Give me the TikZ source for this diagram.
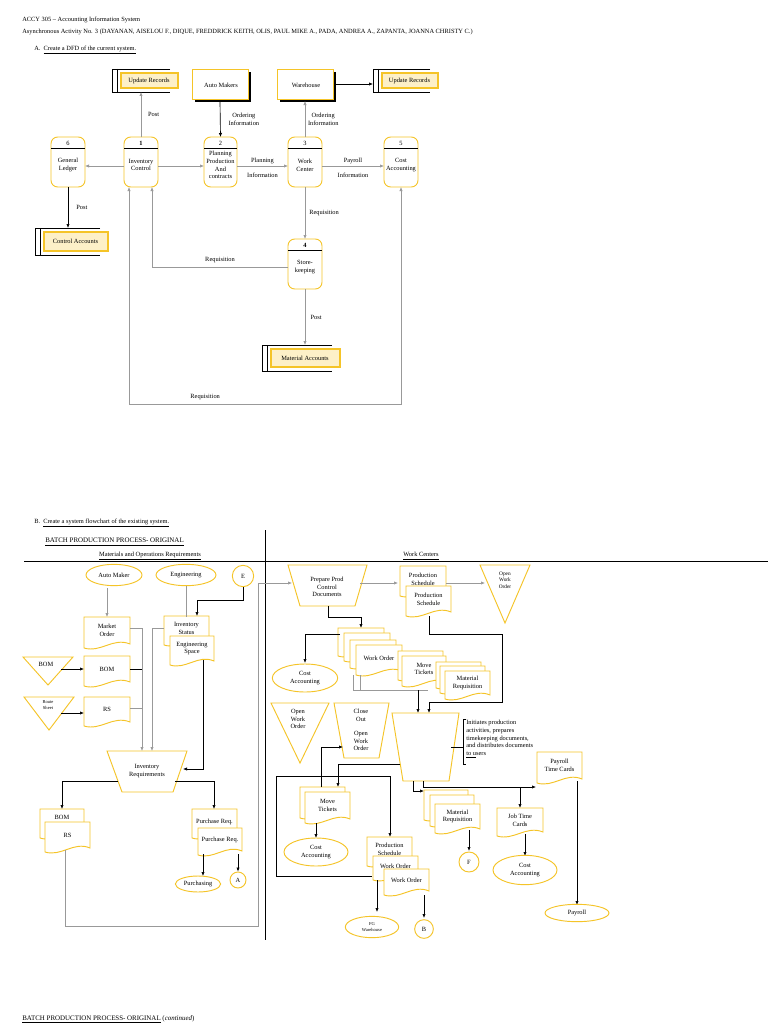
\documentclass[tikz,border=0pt]{standalone}
\usepackage{fontspec}
\setmainfont{Liberation Serif}
\usepackage{xcolor}
\definecolor{boxline}{RGB}{245,196,40}
\definecolor{storefill}{RGB}{253,240,200}
\usetikzlibrary{arrows.meta, calc, shapes.geometric}
\tikzset{
  txt/.style={font=\fontsize{4.8}{5.8}\selectfont, align=center, inner sep=0pt},
  small/.style={font=\fontsize{3.4}{4.2}\selectfont, align=center, inner sep=0pt},
  flow/.style={-{Latex[length=3pt,width=2.5pt]}, line width=0.5pt},
  gflow/.style={flow, draw=gray!80},
  plain/.style={line width=0.5pt},
  yel/.style={draw=boxline, line width=0.7pt, fill=white},
}
% document symbol: name, x1, y1, x2, y2, text
\newcommand\docsym[6]{
  \draw[yel] (#2,#3) -- (#4,#3) -- (#4,{#5-4})
    .. controls ({(#2+#4)/2+6},{#5-11}) and ({(#2+#4)/2-6},{#5+5}) .. (#2,#5) -- cycle;
  \node[txt] (#1) at ({(#2+#4)/2},{(#3+#5)/2-2}) {#6};
}
% DFD process: name, x1, y1, x2, y2, number, text
\newcommand\dfdproc[7]{
  \draw[yel, rounded corners=5pt] (#2,#3) rectangle (#4,#5);
  \draw[line width=0.6pt] (#2,{#3+11}) -- (#4,{#3+11});
  \node[txt] at ({(#2+#4)/2},{#3+6}) {#6};
  \node[txt] (#1) at ({(#2+#4)/2},{(#3+#5)/2+3}) {#7};
  \coordinate (#1-n) at ({(#2+#4)/2},#3);
  \coordinate (#1-s) at ({(#2+#4)/2},#5);
}
% data store: name, x1, y1, x2, y2, text
\newcommand\dstore[6]{
  \draw[plain] (#4,#3) -- (#2,#3) -- (#2,#5) -- (#4,#5);
  \draw[plain] ({#2+5},#3) -- ({#2+5},#5);
  \draw[draw=boxline, line width=0.8pt, fill=storefill] ({#2+9},{#3+4}) rectangle ({#4+8},{#5-4});
  \node[txt] (#1) at ({(#2+#4)/2+8},{(#3+#5)/2}) {#6};
}
% external entity: name, x1, y1, x2, y2, text
\newcommand\entity[6]{
  \draw[line width=1pt] ({#2+3},#5) -- (#4,#5) -- (#4,{#3+3});
  \draw[yel] (#2,#3) rectangle ({#4-2},{#5-2});
  \node[txt] (#1) at ({(#2+#4)/2},{(#3+#5)/2}) {#6};
}
\begin{document}
\begin{tikzpicture}[x=0.75pt, y=-0.75pt]
  \fill[white] (0,0) rectangle (768,1024);
  \useasboundingbox (0,0) rectangle (768,1024);
  % headings
  \node[txt, anchor=west] at (22,20) {ACCY 305 -- Accounting Information System};
  \node[txt, anchor=west] at (22,32) {Asynchronous Activity No. 3 (DAYANAN, AISELOU F., DIQUE, FREDDRICK KEITH, OLIS, PAUL MIKE A., PADA, ANDREA A., ZAPANTA, JOANNA CHRISTY C.)};
  \node[txt, anchor=west] at (34,50) {A.\ \ \underline{Create a DFD of the current system.}};

  % DFD
  \dstore{updl}{112}{69}{170}{92}{Update Records}
  \entity{auto}{192}{69}{250}{101}{Auto Makers}
  \entity{ware}{277}{69}{335}{101}{Warehouse}
  \dstore{updr}{373}{69}{430}{92}{Update Records}
  \dfdproc{gl}{51}{137}{85}{187}{6}{General\\Ledger}
  \dfdproc{ic}{124}{137}{158}{187}{\textbf{1}}{Inventory\\Control}
  \dfdproc{pp}{204}{137}{237}{187}{2}{Planning\\Production\\And\\contracts}
  \dfdproc{wc}{288}{137}{322}{187}{3}{Work\\Center}
  \dfdproc{ca}{384}{137}{418}{187}{5}{Cost\\Accounting}
  \dfdproc{sk}{288}{239}{322}{289}{\textbf{4}}{Store-\\keeping}
  \dstore{ctl}{35}{228}{100}{255}{Control Accounts}
  \dstore{mat}{262}{345}{332}{371}{Material Accounts}

  \draw[gflow] (141,137) -- node[txt, right=5pt] {Post} (141,92);
  \draw[flow] (220,101) -- node[txt, right=6pt] {Ordering\\Information} (pp-n);
  \draw[gflow] (wc-n) -- node[txt, right=2pt] {Ordering\\Information} (305,101);
  \draw[flow] (335,84) -- (373,84);
  \draw[gflow] (124,166) -- (85,166);
  \draw[gflow] (158,166) -- (204,166);
  \draw[gflow] (237,166) -- node[txt, above=1pt] {Planning} node[txt, below=5pt] {Information} (288,166);
  \draw[gflow] (322,166) -- node[txt, above=1pt] {Payroll} node[txt, below=5pt] {Information} (384,166);
  \draw[flow] (gl-s) -- node[txt, right=6pt] {Post} (68,228);
  \draw[gflow] (wc-s) -- node[txt, right=3pt] {Requisition} (sk-n);
  \draw[gflow] (288,267) -- node[txt, above=3pt] {Requisition} (152,267) -- (152,187);
  \draw[gflow] (sk-s) -- node[txt, right=4pt] {Post} (305,345);
  \draw[gflow] (129,404) -- (129,187);
  \draw[gflow] (129,404) -- node[txt, above=3pt, pos=0.28] {Requisition} (401,404) -- (401,187);

  % Flowchart
  \node[txt, anchor=west] at (34,523) {B.\ \ \underline{Create a system flowchart of the existing system.}};
  \node[txt, anchor=west, font=\fontsize{5.2}{6}\selectfont] at (45,542) {\underline{BATCH PRODUCTION PROCESS- ORIGINAL}};
  \node[txt] at (150,556) {\underline{Materials and Operations Requirements}};
  \node[txt] at (421,556) {\underline{Work Centers}};
  \draw[line width=0.6pt] (24,561) -- (768,561);
  \draw[line width=0.6pt] (265,530) -- (265,940);

  % left column
  \node[yel, ellipse, minimum width=42pt, minimum height=16pt, txt] (am) at (114,575) {Auto Maker};
  \node[yel, ellipse, minimum width=45pt, minimum height=16pt, txt] (eng) at (186,575) {Engineering};
  \node[yel, circle, minimum size=16pt, txt] (e) at (243,576) {E};
  \docsym{mo}{84}{617}{130}{648}{Market\\Order}
  \docsym{is}{164}{616}{209}{645}{Inventory\\Status}
  \docsym{es}{170}{636}{214}{665}{Engineering\\Space}
  \draw[yel] (23,657) -- (73,657) -- (48,685) -- cycle;
  \node[txt] (bomt) at (46,664) {BOM};
  \docsym{bom}{84}{656}{130}{686}{BOM}
  \draw[yel] (24,697) -- (74,697) -- (49,730) -- cycle;
  \node[small] (rst) at (48,705) {Route\\Sheet};
  \docsym{rs}{84}{697}{130}{726}{RS}
  \draw[yel] (107,751) -- (187,751) -- (173,792) -- (122,792) -- cycle;
  \node[txt] (ir) at (147,771) {Inventory\\Requirements};
  \docsym{bom2}{40}{809}{84}{838}{\raisebox{6pt}{BOM}}
  \docsym{rs2}{45}{822}{90}{852}{RS}
  \docsym{pr1}{192}{809}{237}{838}{Purchase Req.}
  \docsym{pr2}{198}{828}{242}{855}{Purchase Req.}
  \node[yel, ellipse, minimum width=34pt, minimum height=12pt, txt] (pur) at (198,884) {Purchasing};
  \node[yel, circle, minimum size=12pt, txt] (a) at (238,880) {A};

  \draw[gflow] (107,588) -- (107,617);
  \draw[gray!80, plain] (eng) -- (186,617);
  \draw[flow] (e) |- (197,600) -- (197,616);
  \draw[flow] (61,669) -- (84,669);
  \draw[flow] (61,713) -- (84,713);
  \draw[gflow] (130,628) -- (142,628) -- (142,751);
  \draw[plain] (130,669) -- (142,669);
  \draw[gray!80, plain] (130,708) -- (142,708);
  \draw[gflow] (164,628) -- (152,628) -- (152,751);
  \draw[flow] (203,660) -- (203,769) -- (183,769);
  \draw[flow] (118,781) -- (62,781) -- (62,809);
  \draw[flow] (175,781) -- (214,781) -- (214,809);
  \draw[flow] (203,854) -- (203,876);
  \draw[flow] (238,854) -- (a);
  \draw[gray!80, plain] (65,850) -- (65,926) -- (258,926) -- (258,583);

  % right column
  \draw[yel] (288,565) -- (367,565) -- (355,606) -- (300,606) -- cycle;
  \node[txt] (ppc) at (327,587) {Prepare Prod\\Control\\Documents};
  \draw[gflow] (258,583) -- (292,583);
  \docsym{ps1}{400}{566}{446}{596}{Production\\Schedule}
  \docsym{ps2}{406}{586}{451}{616}{Production\\Schedule}
  \draw[yel] (480,565) -- (530,565) -- (505,623) -- cycle;
  \node[small, font=\fontsize{4}{4.8}\selectfont] (owo) at (505,580) {Open\\Work\\Order};
  \draw[gflow] (360,583) -- (398,583);
  \draw[gflow] (446,583) -- (485,583);
  \draw[flow] (328,606) -- (328,617) -- (361,617) -- (361,628);
  \docsym{wo1}{338}{628}{384}{656}{}
  \docsym{wo2}{344}{633}{390}{661}{}
  \docsym{wo3}{350}{640}{396}{668}{}
  \docsym{wo}{356}{645}{402}{675}{Work Order}
  \draw[flow] (340,634) -- (305,634) -- (305,663);
  \node[yel, ellipse, minimum width=49pt, minimum height=21pt, txt] (ca1) at (305,678) {Cost\\Accounting};
  \docsym{mt1}{398}{651}{443}{680}{}
  \docsym{mt}{402}{656}{446}{686}{Move\\Tickets}
  \docsym{mr1}{436}{662}{481}{688}{}
  \docsym{mr2}{440}{666}{485}{693}{}
  \docsym{mr}{445}{671}{490}{699}{Material\\Requisition}
  \draw[flow] (429,616) -- (429,634) -- (502,634) -- (502,702) -- (429,702) -- (429,713);
  \draw[gray!80, plain] (353,675) -- (353,690) -- (428,690);
  \draw[gray!80, plain] (360,675) -- (360,690);
  \draw[flow] (418,690) -- (418,713);

  \draw[yel] (392,713) -- (459,713) -- (449,781) -- (403,781) -- cycle;
  \draw[plain] (451,747) -- (463,747);
  \draw[plain] (466,719) -- (463,719) -- (463,764) -- (466,764);
  \node[txt, anchor=north west, align=left] (note) at (466,720) {Initiates production\\activities, prepares\\timekeeping documents,\\and distributes documents\\\underline{to u}sers};

  \draw[yel] (271,703) -- (329,703) -- (300,763) -- cycle;
  \node[txt] (owo2) at (298,719) {Open\\Work\\Order};
  \draw[yel] (334,703) -- (389,703) -- (379,758) -- (344,758) -- cycle;
  \node[txt] (co) at (361,715) {Close\\Out};
  \node[txt] (cowo) at (361,741) {Open\\Work\\Order};

  \draw[flow] (400,764) -- (338,764) -- (338,787);
  \docsym{mtb1}{300}{787}{345}{818}{}
  \docsym{mtb}{305}{792}{350}{823}{Move\\Tickets}
  \draw[flow] (321,787) -- (321,747) -- (343,747);
  \draw[flow] (316,823) -- (316,838);
  \node[yel, ellipse, minimum width=48pt, minimum height=21pt, txt] (ca2) at (316,852) {Cost\\Accounting};
  \draw[plain] (276,776) -- (276,876) -- (372,876);
  \draw[flow] (276,776) -- (390,776) -- (390,837);
  \docsym{psb1}{367}{837}{412}{866}{Production\\Schedule}
  \docsym{psb2}{373}{856}{418}{880}{Work Order}
  \docsym{wob}{384}{869}{429}{895}{Work Order}
  \draw[flow] (377,880) -- (377,912);
  \node[yel, ellipse, minimum width=40pt, minimum height=16pt, small] (fg) at (372,927) {FG\\Warehouse};
  \draw[flow] (424,895) -- (424,918);
  \node[yel, circle, minimum size=14pt, txt] (b) at (424,929) {B};

  \draw[flow] (413,781) -- (413,791) -- (424,791);
  \docsym{mrb1}{424}{790}{468}{820}{}
  \docsym{mrb2}{430}{795}{474}{826}{}
  \docsym{mrb}{435}{804}{480}{833}{Material\\Requisition}
  \draw[flow] (469,830) -- (469,851);
  \node[yel, circle, minimum size=15pt, txt] (f) at (469,862) {F};
  \draw[flow] (423,781) -- (423,787) -- (536,787);
  \draw[flow] (520,787) -- (520,808);
  \docsym{jtc}{497}{808}{543}{836}{Job Time\\Cards}
  \draw[flow] (525,834) -- (525,856);
  \node[yel, ellipse, minimum width=48pt, minimum height=22pt, txt] (ca3) at (525,870) {Cost\\Accounting};
  \docsym{ptc}{537}{752}{582}{783}{Payroll\\Time Cards}
  \draw[flow] (577,781) -- (577,905);
  \node[yel, ellipse, minimum width=48pt, minimum height=13pt, txt] (pay) at (577,913) {Payroll};

  \node[txt, anchor=west, font=\fontsize{5.2}{6}\selectfont] at (22,1019) {\underline{BATCH PRODUCTION PROCESS- ORIGINAL} (\textit{continued})};
\end{tikzpicture}
\end{document}
